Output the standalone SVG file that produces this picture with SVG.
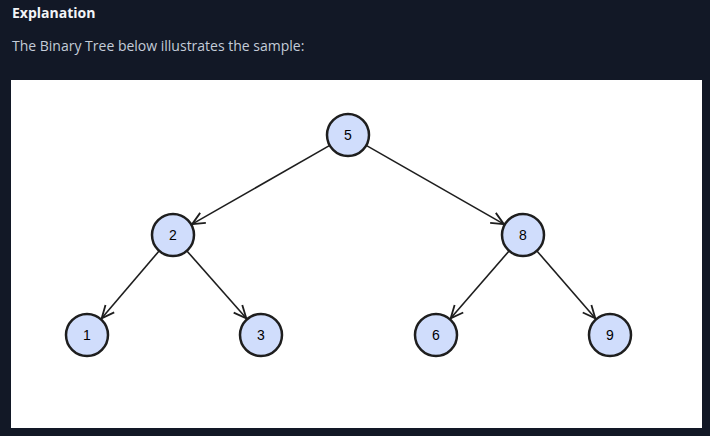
<svg xmlns="http://www.w3.org/2000/svg" width="710" height="436" viewBox="0 0 710 436">
<style>
.n circle{fill:#d0ddfc;stroke:#1e1e1e;stroke-width:2.5}
.n text{font-family:"Liberation Sans",Arial,sans-serif;font-size:14px;fill:#000;text-anchor:middle;dominant-baseline:central}
.e line{stroke:#1e1e1e;stroke-width:1.6;marker-end:url(#a)}
</style>
<defs><marker id="a" markerUnits="userSpaceOnUse" markerWidth="16" markerHeight="16" refX="12" refY="6" viewBox="0 0 14 12" orient="auto"><path d="M1 1L12 6L1 11" fill="none" stroke="#1e1e1e" stroke-width="1.6"/></marker></defs>
<rect width="710" height="436" fill="#121826"/>
<text x="12" y="18" font-family="'Open Sans',sans-serif" font-size="14" font-weight="bold" fill="#f2f4f8">Explanation</text>
<text x="12" y="51" font-family="'Open Sans',sans-serif" font-size="14" fill="#c4ccd8">The Binary Tree below illustrates the sample:</text>
<rect x="11" y="80" width="691" height="348" fill="#fff"/>
<g class="e">
<line x1="329.8" y1="145.4" x2="192.1" y2="224.1"/>
<line x1="366.2" y1="145.4" x2="503.9" y2="224.1"/>
<line x1="159.3" y1="250.7" x2="101.7" y2="318.3"/>
<line x1="186.7" y1="250.7" x2="246.3" y2="318.3"/>
<line x1="509.3" y1="250.7" x2="450.7" y2="318.3"/>
<line x1="536.7" y1="250.7" x2="595.3" y2="318.3"/>
</g>
<g id="n5" class="n"><circle cx="348" cy="135" r="21"/><text x="348" y="135">5</text></g>
<g id="n2" class="n"><circle cx="173" cy="235" r="21"/><text x="173" y="235">2</text></g>
<g id="n8" class="n"><circle cx="523" cy="235" r="21"/><text x="523" y="235">8</text></g>
<g id="n1" class="n"><circle cx="87" cy="335" r="21"/><text x="87" y="335">1</text></g>
<g id="n3" class="n"><circle cx="261" cy="335" r="21"/><text x="261" y="335">3</text></g>
<g id="n6" class="n"><circle cx="436" cy="335" r="21"/><text x="436" y="335">6</text></g>
<g id="n9" class="n"><circle cx="610" cy="335" r="21"/><text x="610" y="335">9</text></g>
</svg>
